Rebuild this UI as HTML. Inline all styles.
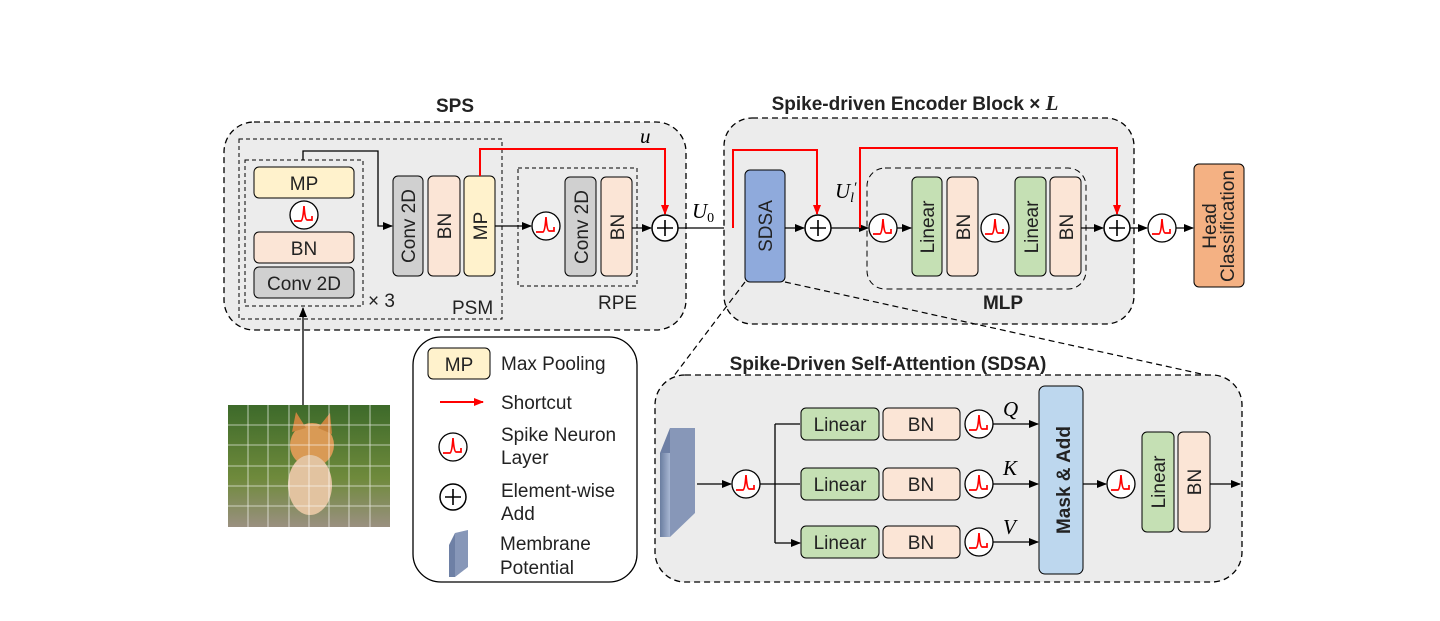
<!DOCTYPE html>
<html><head><meta charset="utf-8"><style>
html,body{margin:0;padding:0;background:#fff;}
svg{display:block;font-family:"Liberation Sans",sans-serif;}
.t{font-size:19px;fill:#222;}
.b{font-weight:bold;}
.m{font-family:"Liberation Serif",serif;font-style:italic;font-size:21px;}
</style></head><body>
<svg width="1440" height="621" viewBox="0 0 1440 621" xmlns="http://www.w3.org/2000/svg">
<defs>
<marker id="ak" markerWidth="10" markerHeight="10" refX="9" refY="5" orient="auto" markerUnits="userSpaceOnUse"><path d="M0,1 L10,5 L0,9 z" fill="#000"/></marker>
<marker id="ar" markerWidth="10" markerHeight="10" refX="9" refY="5" orient="auto" markerUnits="userSpaceOnUse"><path d="M0,1 L10,5 L0,9 z" fill="#f00"/></marker>
<g id="sp"><circle r="14" fill="#fff" stroke="#000" stroke-width="1.3"/><path d="M-10,6 L-3,6 Q-1,5 0,-9 Q1,5 3,5 L8,5 L8,1" fill="none" stroke="#f00" stroke-width="1.7"/></g>
<g id="pl"><circle r="13" fill="#fff" stroke="#000" stroke-width="1.5"/><path d="M-8,0 H8 M0,-8 V8" stroke="#000" stroke-width="1.6"/></g>
<linearGradient id="mb" x1="0" x2="1"><stop offset="0" stop-color="#6a7da0"/><stop offset="1" stop-color="#a7b6d2"/></linearGradient>
</defs>

<!-- SPS -->
<text x="455" y="112" class="t b" font-size="21" text-anchor="middle">SPS</text>
<rect x="224" y="122" width="462" height="208" rx="30" fill="#ececec" stroke="#000" stroke-dasharray="6,4" stroke-width="1.3"/>
<rect x="239" y="139" width="263" height="180" fill="none" stroke="#000" stroke-dasharray="4,3"/>
<rect x="245" y="160" width="118" height="146" fill="none" stroke="#000" stroke-dasharray="4,3"/>
<rect x="254" y="167" width="100" height="31" rx="5" fill="#fff2cc" stroke="#000"/>
<text x="304" y="190" class="t" text-anchor="middle">MP</text>
<use href="#sp" x="304" y="215"/>
<rect x="254" y="232" width="100" height="31" rx="5" fill="#fbe5d6" stroke="#000"/>
<text x="304" y="255" class="t" text-anchor="middle">BN</text>
<rect x="254" y="267" width="100" height="31" rx="5" fill="#d0d0d0" stroke="#000"/>
<text x="304" y="290" class="t" text-anchor="middle">Conv 2D</text>
<text x="368" y="307" class="t" font-size="21">× 3</text>
<text x="452" y="314" class="t" font-size="18">PSM</text>
<rect x="393" y="176" width="30" height="100" rx="5" fill="#d0d0d0" stroke="#000"/>
<text transform="translate(415,226) rotate(-90)" class="t" text-anchor="middle">Conv 2D</text>
<rect x="428" y="176" width="32" height="100" rx="5" fill="#fbe5d6" stroke="#000"/>
<text transform="translate(451,226) rotate(-90)" class="t" text-anchor="middle">BN</text>
<rect x="464" y="176" width="31" height="100" rx="5" fill="#fff2cc" stroke="#000"/>
<text transform="translate(487,226) rotate(-90)" class="t" text-anchor="middle">MP</text>
<path d="M303,160 V151 H378 V226 H392" fill="none" stroke="#000" stroke-width="1.3" marker-end="url(#ak)"/>
<path d="M480,176 V149 H665 V214" fill="none" stroke="#f00" stroke-width="2" marker-end="url(#ar)"/>
<text x="640" y="143" class="m">u</text>
<rect x="518" y="168" width="119" height="118" fill="none" stroke="#000" stroke-dasharray="4,3"/>
<path d="M495,226 H531" stroke="#000" stroke-width="1.3" marker-end="url(#ak)"/>
<use href="#sp" x="546" y="226"/>
<rect x="565" y="177" width="31" height="99" rx="5" fill="#d0d0d0" stroke="#000"/>
<text transform="translate(588,227) rotate(-90)" class="t" text-anchor="middle">Conv 2D</text>
<rect x="601" y="177" width="31" height="99" rx="5" fill="#fbe5d6" stroke="#000"/>
<text transform="translate(624,227) rotate(-90)" class="t" text-anchor="middle">BN</text>
<text x="598" y="309" class="t" font-size="18">RPE</text>
<path d="M632,228 H651" stroke="#000" stroke-width="1.3" marker-end="url(#ak)"/>
<use href="#pl" x="665" y="228"/>
<path d="M678,228 H744" stroke="#000" stroke-width="1.3" marker-end="url(#ak)"/>
<text x="692" y="218" class="m">U<tspan font-size="14" dy="4" font-style="normal">0</tspan></text>

<!-- Encoder -->
<text x="915" y="110" class="t b" font-size="22" text-anchor="middle">Spike-driven Encoder Block × <tspan class="m" font-weight="bold">L</tspan></text>
<rect x="724" y="118" width="410" height="206" rx="28" fill="#ececec" stroke="#000" stroke-dasharray="6,4" stroke-width="1.3"/>
<path d="M733,228 V150 H817 V214" fill="none" stroke="#f00" stroke-width="2" marker-end="url(#ar)"/>
<rect x="745" y="170" width="40" height="112" rx="5" fill="#8faadc" stroke="#000"/>
<text transform="translate(772,226) rotate(-90)" class="t" text-anchor="middle">SDSA</text>
<path d="M785,228 H804" stroke="#000" stroke-width="1.3" marker-end="url(#ak)"/>
<use href="#pl" x="818" y="228"/>
<text x="835" y="198" class="m">U<tspan font-size="14" dy="4">l</tspan><tspan dy="-10" font-size="15" font-style="normal">′</tspan></text>
<rect x="867" y="168" width="219" height="121" rx="18" fill="none" stroke="#000" stroke-dasharray="6,4"/>
<path d="M831,228 H868" stroke="#000" stroke-width="1.3" marker-end="url(#ak)"/>
<path d="M860,228 V148 H1117 V214" fill="none" stroke="#f00" stroke-width="2" marker-end="url(#ar)"/>
<use href="#sp" x="883" y="228"/>
<path d="M897,228 H911" stroke="#000" stroke-width="1.3" marker-end="url(#ak)"/>
<rect x="912" y="177" width="30" height="99" rx="5" fill="#c5e0b4" stroke="#000"/>
<text transform="translate(934,227) rotate(-90)" class="t" text-anchor="middle">Linear</text>
<rect x="947" y="177" width="31" height="99" rx="5" fill="#fbe5d6" stroke="#000"/>
<text transform="translate(970,227) rotate(-90)" class="t" text-anchor="middle">BN</text>
<use href="#sp" x="995" y="228"/>
<rect x="1015" y="177" width="31" height="99" rx="5" fill="#c5e0b4" stroke="#000"/>
<text transform="translate(1038,227) rotate(-90)" class="t" text-anchor="middle">Linear</text>
<rect x="1050" y="177" width="31" height="99" rx="5" fill="#fbe5d6" stroke="#000"/>
<text transform="translate(1073,227) rotate(-90)" class="t" text-anchor="middle">BN</text>
<text x="1003" y="309" class="t b" font-size="20" text-anchor="middle">MLP</text>
<path d="M1081,228 H1103" stroke="#000" stroke-width="1.3" marker-end="url(#ak)"/>
<use href="#pl" x="1117" y="228"/>
<path d="M1130,228 H1147" stroke="#000" stroke-width="1.3" marker-end="url(#ak)"/>
<use href="#sp" x="1162" y="228"/>
<path d="M1176,228 H1193" stroke="#000" stroke-width="1.3" marker-end="url(#ak)"/>
<rect x="1194" y="164" width="50" height="123" rx="5" fill="#f4b183" stroke="#000"/>
<text transform="translate(1216,226) rotate(-90)" class="t" font-size="15" text-anchor="middle">Head</text>
<text transform="translate(1234,226) rotate(-90)" class="t" font-size="15" text-anchor="middle">Classification</text>

<!-- zoom lines -->
<path d="M745,282 L667,385 M785,282 L1215,377" stroke="#000" stroke-dasharray="6,4" stroke-width="1.2" fill="none"/>

<!-- SDSA -->
<text x="888" y="370" class="t b" font-size="23" text-anchor="middle">Spike-Driven Self-Attention (SDSA)</text>
<rect x="655" y="375" width="587" height="207" rx="30" fill="#ececec" stroke="#000" stroke-dasharray="6,4" stroke-width="1.3"/>
<polygon points="670,428 695,428 695,513 670,537" fill="#8797b8"/>
<polygon points="660,453 670,428 670,537 660,537" fill="#6e80a5"/>
<rect x="660" y="453" width="10" height="84" fill="url(#mb)"/>
<path d="M697,484 H731" stroke="#000" stroke-width="1.3" marker-end="url(#ak)"/>
<use href="#sp" x="746" y="484"/>
<path d="M760,484 H800 M775,424 V543 M775,424 H800 M775,543 H800" stroke="#000" stroke-width="1.3" fill="none"/>
<path d="M790,424 H800 M790,484 H800 M790,543 H800" stroke="#000" marker-end="url(#ak)"/>
<g>
<rect x="801" y="408" width="78" height="32" rx="5" fill="#c5e0b4" stroke="#000"/><text x="840" y="431" class="t" text-anchor="middle">Linear</text>
<rect x="883" y="408" width="77" height="32" rx="5" fill="#fbe5d6" stroke="#000"/><text x="921" y="431" class="t" text-anchor="middle">BN</text>
<use href="#sp" x="979" y="424"/><path d="M993,424 H1038" stroke="#000" stroke-width="1.3" marker-end="url(#ak)"/>
<rect x="801" y="468" width="78" height="32" rx="5" fill="#c5e0b4" stroke="#000"/><text x="840" y="491" class="t" text-anchor="middle">Linear</text>
<rect x="883" y="468" width="77" height="32" rx="5" fill="#fbe5d6" stroke="#000"/><text x="921" y="491" class="t" text-anchor="middle">BN</text>
<use href="#sp" x="979" y="484"/><path d="M993,484 H1038" stroke="#000" stroke-width="1.3" marker-end="url(#ak)"/>
<rect x="801" y="526" width="78" height="32" rx="5" fill="#c5e0b4" stroke="#000"/><text x="840" y="549" class="t" text-anchor="middle">Linear</text>
<rect x="883" y="526" width="77" height="32" rx="5" fill="#fbe5d6" stroke="#000"/><text x="921" y="549" class="t" text-anchor="middle">BN</text>
<use href="#sp" x="979" y="542"/><path d="M993,542 H1038" stroke="#000" stroke-width="1.3" marker-end="url(#ak)"/>
</g>
<text x="1003" y="416" class="m">Q</text>
<text x="1003" y="475" class="m">K</text>
<text x="1003" y="534" class="m">V</text>
<rect x="1039" y="386" width="44" height="188" rx="6" fill="#bdd7ee" stroke="#000"/>
<text transform="translate(1070,480) rotate(-90)" class="t b" font-size="22" text-anchor="middle">Mask &amp; Add</text>
<path d="M1083,484 H1106" stroke="#000" stroke-width="1.3" marker-end="url(#ak)"/>
<use href="#sp" x="1121" y="484"/>
<rect x="1142" y="432" width="32" height="100" rx="5" fill="#c5e0b4" stroke="#000"/>
<text transform="translate(1165,482) rotate(-90)" class="t" text-anchor="middle">Linear</text>
<rect x="1178" y="432" width="32" height="100" rx="5" fill="#fbe5d6" stroke="#000"/>
<text transform="translate(1201,482) rotate(-90)" class="t" text-anchor="middle">BN</text>
<path d="M1210,484 H1240" stroke="#000" stroke-width="1.3" marker-end="url(#ak)"/>

<!-- legend -->
<rect x="413" y="337" width="224" height="245" rx="28" fill="#fff" stroke="#000" stroke-width="1.3"/>
<rect x="428" y="348" width="62" height="31" rx="5" fill="#fff2cc" stroke="#000"/>
<text x="459" y="371" class="t" text-anchor="middle">MP</text>
<text x="501" y="370" class="t">Max Pooling</text>
<path d="M440,402 H483" stroke="#f00" stroke-width="2" marker-end="url(#ar)"/>
<text x="501" y="409" class="t">Shortcut</text>
<use href="#sp" x="453" y="447"/>
<text x="501" y="441" class="t">Spike Neuron</text>
<text x="501" y="464" class="t">Layer</text>
<use href="#pl" x="453" y="497"/>
<text x="501" y="497" class="t">Element-wise</text>
<text x="501" y="520" class="t">Add</text>
<polygon points="455,533 468,530 468,567 455,577" fill="#8797b8"/>
<polygon points="449,545 455,533 455,577 449,577" fill="#6e80a5"/>
<text x="500" y="550" class="t">Membrane</text>
<text x="500" y="574" class="t">Potential</text>

<!-- image -->
<path d="M303,405 V308" stroke="#000" stroke-width="1.3" marker-end="url(#ak)"/>
<defs><linearGradient id="bg" x1="0" y1="0" x2="0" y2="1"><stop offset="0" stop-color="#3d6a2a"/><stop offset="0.6" stop-color="#6f8a3c"/><stop offset="1" stop-color="#9a9080"/></linearGradient></defs>
<rect x="228" y="405" width="162" height="122" fill="url(#bg)"/>
<ellipse cx="312" cy="445" rx="22" ry="22" fill="#d99a55"/>
<ellipse cx="310" cy="485" rx="22" ry="30" fill="#e2c3a0"/>
<polygon points="292,432 296,412 306,428" fill="#c9853e"/>
<polygon points="318,428 330,413 332,434" fill="#c9853e"/>
<g stroke="#fff" stroke-width="0.8" opacity="0.8">
<path d="M248,405V527M268,405V527M289,405V527M309,405V527M329,405V527M349,405V527M370,405V527"/>
<path d="M228,425H390M228,445H390M228,466H390M228,486H390M228,506H390"/>
</g>
</svg>
</body></html>
